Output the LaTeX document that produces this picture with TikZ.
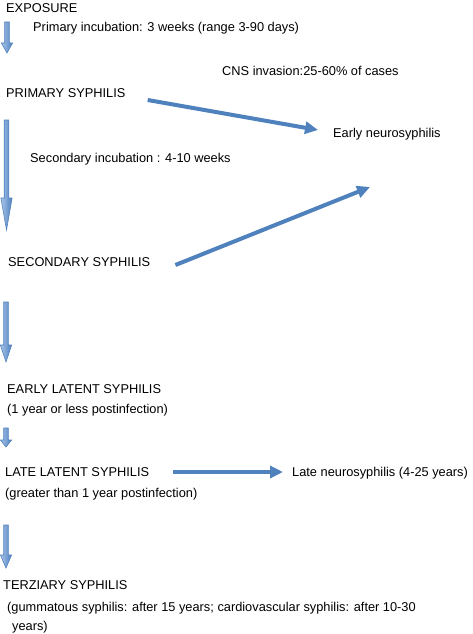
\documentclass[tikz,border=0pt]{standalone}
\usepackage{fontspec}
\setmainfont{Liberation Sans}
\usetikzlibrary{arrows.meta,calc}
\definecolor{arrowblue}{RGB}{79,129,189}
\definecolor{blocklight}{RGB}{170,198,234}
\definecolor{blockmid}{RGB}{76,126,190}
\tikzset{
	stage/.style={anchor=base west, inner sep=0pt, font=\fontsize{12.8}{15}\selectfont},
	flow/.style={draw=arrowblue, line width=4pt, -{Triangle[length=13pt,width=12pt]}},
	blockarrow/.style={draw=arrowblue, line width=0.6pt, left color=blocklight, right color=blockmid}
}
% block arrow pointing down: top, tip, head length
\newcommand{\blockdown}[3]{%
	\path[blockarrow] ($(#1)+(-2.3,0)$) -- ($(#2)+(-2.3,-#3)$) -- ($(#2)+(-5.6,-#3)$) -- (#2)
		-- ($(#2)+(5.6,-#3)$) -- ($(#2)+(2.3,-#3)$) -- ($(#1)+(2.3,0)$) -- cycle;}
\begin{document}
\begin{tikzpicture}[x=1pt, y=-1pt]
	\useasboundingbox (0,0) rectangle (472,634);
	
	% Stages
	\node[stage] (exposure) at (6,13) {EXPOSURE};
	\node[stage] (primary) at (6,97) {PRIMARY SYPHILIS};
	\node[stage] (secondary) at (8,266) {SECONDARY SYPHILIS};
	\node[stage] (earlylatent) at (7,393) {EARLY LATENT SYPHILIS};
	\node[stage] (earlynote) at (7,413) {(1 year or less postinfection)};
	\node[stage] (latelatent) at (5,476) {LATE LATENT SYPHILIS};
	\node[stage] (latenote) at (5,497) {(greater than 1 year postinfection)};
	\node[stage] (terziary) at (3,589) {TERZIARY SYPHILIS};
	\node[stage] (terznote) at (7,611) {(gummatous syphilis: after 15 years; cardiovascular syphilis: after 10-30};
	\node[stage] (terznotetwo) at (12,630) {years)};
	
	% Incubation and neurosyphilis
	\node[stage] (incprimary) at (33,32) {Primary incubation: 3 weeks (range 3-90 days)};
	\node[stage] (cns) at (222,75) {CNS invasion:25-60\% of cases};
	\node[stage] (earlyneuro) at (333,137) {Early neurosyphilis};
	\node[stage] (incsecondary) at (30,162) {Secondary incubation : 4-10 weeks};
	\node[stage] (lateneuro) at (292,476) {Late neurosyphilis (4-25 years)};
	
	% Arrows down
	\blockdown{[shift={(1pt,-9pt)}]exposure.base west}{[shift={(1pt,44pt)}]primary.base west}{10}
	\blockdown{[shift={(0.5pt,-23pt)}]primary.base west}{[shift={(-1.5pt,36pt)}]secondary.base west}{32}
	\blockdown{[shift={(-2pt,-36pt)}]secondary.base west}{[shift={(-1pt,31pt)}]earlylatent.base west}{17}
	\blockdown{[shift={(-1pt,-15pt)}]earlynote.base west}{[shift={(1pt,29pt)}]latelatent.base west}{7}
	\blockdown{[shift={(1pt,-28pt)}]latenote.base west}{[shift={(3pt,21pt)}]terziary.base west}{13}
	
	% Arrows to neurosyphilis
	\draw[flow] ([shift={(22pt,-3pt)}]primary.base east) -- ([shift={(-15pt,7pt)}]earlyneuro.base west);
	\draw[flow] ([shift={(25pt,1pt)}]secondary.base east) -- ([shift={(37pt,-50pt)}]earlyneuro.base west);
	\draw[flow] ([shift={(24pt,4pt)}]latelatent.base east) -- ([shift={(-9pt,4pt)}]lateneuro.base west);
\end{tikzpicture}
\end{document}
